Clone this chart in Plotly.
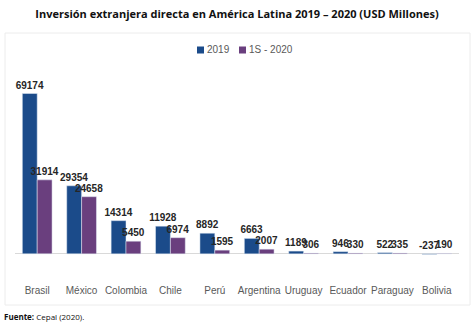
import plotly.graph_objects as go

countries = ["Brasil", "México", "Colombia", "Chile", "Perú", "Argentina",
             "Uruguay", "Ecuador", "Paraguay", "Bolivia"]
ied_2019 = [69174, 29354, 14314, 11928, 8892, 6663, 1189, 946, 522, -237]
ied_1s_2020 = [31914, 24658, 5450, 6974, 1595, 2007, 306, 330, 335, 190]

W, H = 474, 330
ml, mr, mt, mb = 15, 15, 80, 75
ph = H - mt - mb

def px_y(y):
    return (H - mb - y) / ph

def px_x(x):
    return (x - ml) / (W - ml - mr)

lab_font = dict(family="Liberation Sans, Arial, sans-serif", size=10, color="#262626")

fig = go.Figure()
series = [("2019", ied_2019, "#1B4B8A", -7.5, 197), ("1S - 2020", ied_1s_2020, "#6A3F7E", 7.5, 239)]
for name, vals, col, shift, lx in series:
    fig.add_trace(go.Bar(x=countries, y=vals, name=name, marker_color=col,
                         text=["<b>%d</b>" % v if v >= 0 else "" for v in vals],
                         textposition="outside", textfont=lab_font,
                         constraintext="none", cliponaxis=False, showlegend=False))

annotations = []
shapes = [dict(type="rect", xref="paper", yref="paper",
               x0=px_x(5), x1=px_x(470), y0=px_y(305), y1=px_y(33),
               line=dict(color="#ececec", width=1), fillcolor="rgba(0,0,0,0)", layer="below")]
for name, vals, col, shift, lx in series:
    for c, v in zip(countries, vals):
        if v < 0:
            annotations.append(dict(x=c, y=0, xref="x", yref="y", text="<b>%d</b>" % v,
                                    showarrow=False, xshift=shift, yanchor="bottom", yshift=1,
                                    font=lab_font))
    # legend entry
    shapes.append(dict(type="rect", xref="paper", yref="paper",
                       x0=px_x(lx), x1=px_x(lx + 7), y0=px_y(53.5), y1=px_y(46.5),
                       fillcolor=col, line=dict(width=0)))
    annotations.append(dict(text=name, xref="paper", yref="paper", x=px_x(lx + 8), y=px_y(50),
                            xanchor="left", yanchor="middle", showarrow=False,
                            font=dict(family="Liberation Sans, Arial, sans-serif", size=10,
                                      color="#595959")))

annotations.append(dict(text="<b>Fuente:</b> Cepal (2020).", xref="paper", yref="paper",
                        x=px_x(2), y=px_y(316), xanchor="left", yanchor="middle", showarrow=False,
                        font=dict(family="Open Sans, sans-serif", size=8, color="#111111")))

fig.update_layout(
    width=W, height=H,
    margin=dict(l=ml, r=mr, t=mt, b=mb),
    paper_bgcolor="white", plot_bgcolor="white",
    barmode="group", bargap=0.33, bargroupgap=0,
    font=dict(family="Liberation Sans, Arial, sans-serif", color="#595959"),
    title=dict(text="<b>Inversión extranjera directa en América Latina 2019 – 2020 (USD Millones)</b>",
               x=0.5, xref="paper", xanchor="center", y=1 - 14 / H, yanchor="middle",
               font=dict(family="Open Sans, sans-serif", size=11, color="#111111")),
    showlegend=False,
    xaxis=dict(showgrid=False, showline=False, ticks="", ticklabelstandoff=28,
               tickfont=dict(size=10, color="#595959")),
    yaxis=dict(range=[-500, 75000], showgrid=False, showticklabels=False, ticks="",
               zeroline=True, zerolinecolor="#d9d9d9", zerolinewidth=1, showline=False),
    shapes=shapes,
    annotations=annotations,
)

fig.write_html("out.html")
